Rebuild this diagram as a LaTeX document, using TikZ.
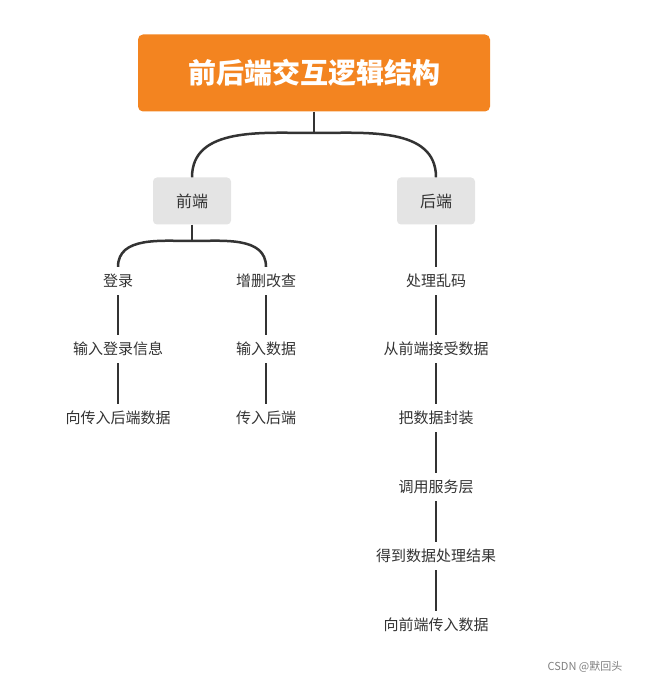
\documentclass[tikz,border=0pt]{standalone}
\usepackage{fontspec}
\setmainfont{Noto Sans CJK SC}
\usetikzlibrary{positioning}
\definecolor{rootorange}{HTML}{F38420}
\definecolor{boxgray}{HTML}{E4E4E4}
\definecolor{linedark}{HTML}{333333}
\begin{document}
\begin{tikzpicture}[x=1pt,y=1pt]
\tikzstyle{rootbox}=[fill=rootorange,rounded corners=5pt,minimum width=352pt,minimum height=77pt,text=white,font=\bfseries\fontsize{28}{30}\selectfont]
\tikzstyle{sidebox}=[fill=boxgray,rounded corners=4pt,minimum width=78pt,minimum height=47pt,font=\fontsize{16}{18}\selectfont,text=linedark]
\tikzstyle{leaf}=[inner sep=7pt,font=\fontsize{15}{17}\selectfont,text=linedark]
\tikzstyle{link}=[draw=linedark,line width=2.5pt]
\useasboundingbox (0,0) rectangle (650,684);

  %--- nodes ---
  \node[rootbox] (root) at (314,611) {前后端交互逻辑结构};
  \node[sidebox] (fe) at (192,483) {前端};
  \node[sidebox] (be) at (436,483) {后端};
  \coordinate (top) at (314,551);
  \coordinate (ftop) at (192,443);

  \node[leaf] (login) at (118,403) {登录};
  \node[leaf] (info) at (118,335) {输入登录信息};
  \node[leaf] (send) at (118,266) {向传入后端数据};
  \node[leaf] (crud) at (266,403) {增删改查};
  \node[leaf] (input) at (266,335) {输入数据};
  \node[leaf] (pass) at (266,266) {传入后端};

  \node[leaf] (b1) at (436,403) {处理乱码};
  \node[leaf] (b2) at (436,335) {从前端接受数据};
  \node[leaf] (b3) at (436,266) {把数据封装};
  \node[leaf] (b4) at (436,197) {调用服务层};
  \node[leaf] (b5) at (436,128) {得到数据处理结果};
  \node[leaf] (b6) at (436,59) {向前端传入数据};

  \node[text=gray,font=\fontsize{11}{13}\selectfont] (mark) at (585,17) {CSDN @默回头};

  %--- connectors ---
  \draw[link] (root.south) -- (top);
  \draw[link] (fe.north) to[out=90,in=180] (top) to[out=0,in=90] (be.north);
  \draw[link] (fe.south) -- (ftop);
  \draw[link] (login.north) to[out=90,in=180] (ftop) to[out=0,in=90] (crud.north);
  \draw[link] (be.south) -- (b1.north);
  \foreach \a/\b in {login/info,info/send,crud/input,input/pass,b1/b2,b2/b3,b3/b4,b4/b5,b5/b6}
    \draw[link] (\a.south) -- (\b.north);
\end{tikzpicture}
\end{document}
